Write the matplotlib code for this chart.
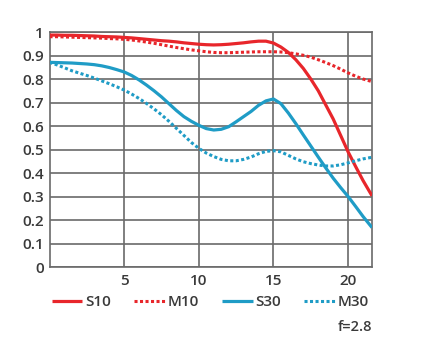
import matplotlib
matplotlib.use("Agg")
import matplotlib.pyplot as plt
from matplotlib.ticker import FixedLocator, FuncFormatter

x = [0, 0.5, 1, 1.5, 2, 2.5, 3, 3.5, 4, 4.5, 5, 5.5, 6, 6.5, 7, 7.5, 8, 8.5, 9, 9.5,
     10, 10.5, 11, 11.5, 12, 12.5, 13, 13.5, 14, 14.5, 15, 15.5, 16, 16.5, 17, 17.5,
     18, 18.5, 19, 19.5, 20, 20.5, 21, 21.6]
s10 = [0.987, 0.987, 0.986, 0.986, 0.985, 0.984, 0.983, 0.981, 0.980, 0.979, 0.977, 0.975,
       0.972, 0.969, 0.966, 0.963, 0.961, 0.958, 0.954, 0.951, 0.948, 0.946, 0.945, 0.946,
       0.948, 0.951, 0.954, 0.958, 0.961, 0.961, 0.953, 0.936, 0.913, 0.882, 0.845, 0.800,
       0.750, 0.690, 0.630, 0.560, 0.490, 0.428, 0.368, 0.303]
m10 = [0.980, 0.980, 0.979, 0.978, 0.977, 0.976, 0.975, 0.974, 0.972, 0.971, 0.969, 0.966,
       0.962, 0.957, 0.952, 0.946, 0.940, 0.934, 0.929, 0.924, 0.920, 0.916, 0.913, 0.912,
       0.912, 0.913, 0.914, 0.915, 0.916, 0.916, 0.916, 0.915, 0.912, 0.907, 0.901, 0.893,
       0.882, 0.870, 0.857, 0.842, 0.826, 0.812, 0.800, 0.789]
s30 = [0.871, 0.870, 0.869, 0.868, 0.866, 0.864, 0.861, 0.856, 0.849, 0.840, 0.830, 0.815,
       0.796, 0.774, 0.750, 0.724, 0.695, 0.666, 0.640, 0.620, 0.603, 0.589, 0.583, 0.586,
       0.597, 0.618, 0.640, 0.662, 0.688, 0.707, 0.715, 0.695, 0.655, 0.610, 0.562, 0.515,
       0.468, 0.422, 0.378, 0.338, 0.300, 0.258, 0.215, 0.168]
m30 = [0.871, 0.860, 0.848, 0.835, 0.825, 0.815, 0.804, 0.792, 0.780, 0.767, 0.753, 0.736,
       0.717, 0.696, 0.673, 0.648, 0.620, 0.590, 0.560, 0.530, 0.505, 0.485, 0.470, 0.458,
       0.452, 0.452, 0.458, 0.468, 0.482, 0.492, 0.495, 0.490, 0.475, 0.460, 0.448, 0.440,
       0.434, 0.430, 0.430, 0.435, 0.443, 0.452, 0.460, 0.467]
x_ticks = [5, 10, 15, 20]
y_ticks = [0, 0.1, 0.2, 0.3, 0.4, 0.5, 0.6, 0.7, 0.8, 0.9, 1.0]
series_labels = ["S10", "M10", "S30", "M30"]
note = "f=2.8"

red = "#e8262b"
blue = "#1f9cc6"
grid_c = "#6a6a6a"
text_c = "#3a3a3a"

plt.rcParams['font.family'] = ['Open Sans', 'DejaVu Sans']
plt.rcParams['font.weight'] = 'semibold'

fig = plt.figure(figsize=(4.21, 3.51), dpi=100)
ax = fig.add_axes([0.1176, 0.2393, 0.766, 0.6695])

dot = (0, (1.0, 0.8))
l1, = ax.plot(x, s10, color=red, lw=2.3, solid_capstyle='butt', label=series_labels[0], zorder=3)
l2, = ax.plot(x, m10, color=red, lw=2.2, linestyle=dot, label=series_labels[1], zorder=3)
l3, = ax.plot(x, s30, color=blue, lw=2.3, solid_capstyle='butt', label=series_labels[2], zorder=3)
l4, = ax.plot(x, m30, color=blue, lw=2.2, linestyle=dot, label=series_labels[3], zorder=3)

ax.set_xlim(0, 21.6)
ax.set_ylim(0, 1.0)
ax.xaxis.set_major_locator(FixedLocator(x_ticks))
ax.yaxis.set_major_locator(FixedLocator(y_ticks))
ax.yaxis.set_major_formatter(FuncFormatter(lambda v, p: "1" if abs(v-1) < 1e-9 else ("0" if abs(v) < 1e-9 else f"{v:.1f}")))
ax.grid(True, color=grid_c, lw=1.2, zorder=1)
for s in ax.spines.values():
    s.set_color(grid_c)
    s.set_linewidth(1.2)
ax.tick_params(length=0, labelsize=11, colors=text_c)
ax.tick_params(axis='y', pad=4)
ax.tick_params(axis='x', pad=5)

fig.legend(handles=[l1, l2, l3, l4], loc='center', bbox_to_anchor=(0.5, 0.14), ncol=4,
           frameon=False, handlelength=2.0, handletextpad=0.2, columnspacing=1.5,
           prop={'size': 11, 'weight': 'semibold'}, labelcolor=text_c)
fig.text(0.885, 0.068, note, ha='right', va='center', fontsize=10.5, color=text_c)

fig.savefig("out.png", dpi=100)
